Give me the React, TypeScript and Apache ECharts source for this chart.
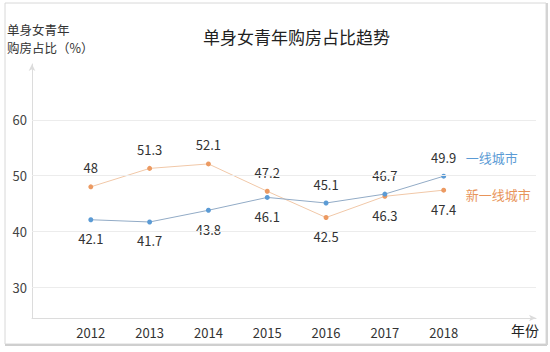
import React, { useEffect, useRef } from "react";
import * as echarts from "echarts";

const years = [2012, 2013, 2014, 2015, 2016, 2017, 2018];
const firstTier = [42.1, 41.7, 43.8, 46.1, 45.1, 46.7, 49.9];
const newFirstTier = [48, 51.3, 52.1, 47.2, 42.5, 46.3, 47.4];
const firstTierLabelPos = ["bottom", "bottom", "bottom", "bottom", "top", "top", "top"];
const newFirstTierLabelPos = ["top", "top", "top", "top", "bottom", "bottom", "bottom"];
const yTicks = [30, 40, 50, 60];
const seriesNames = ["一线城市", "新一线城市"];

const FONT = "Noto Sans CJK SC";

export default function App() {
  const ref = useRef<HTMLDivElement>(null);
  useEffect(() => {
    if (!ref.current) return;
    const chart = echarts.init(ref.current, null, { renderer: "svg" });
    const mk = (vals: number[], pos: string[]) =>
      vals.map((v, i) => ({
        value: [years[i], v],
        label: { position: pos[i] },
      }));
    chart.setOption({
      animation: false,
      backgroundColor: "#ffffff",
      textStyle: { fontFamily: FONT },
      title: [
        {
          text: "单身女青年购房占比趋势",
          left: 198,
          top: 23,
          textStyle: { fontSize: 17, fontWeight: "normal", color: "#222", fontFamily: FONT },
        },
      ],
      graphic: [
        {
          type: "rect",
          shape: { x: 5, y: 3, width: 541, height: 341 },
          style: { fill: "none", stroke: "#d8d8d8", lineWidth: 1 },
          z: -1,
          silent: true,
        },
        {
          type: "line",
          shape: { x1: 5, y1: 345, x2: 547, y2: 345 },
          style: { stroke: "#cfcfcf", lineWidth: 2 },
          silent: true,
        },
        {
          type: "line",
          shape: { x1: 547, y1: 3, x2: 547, y2: 345 },
          style: { stroke: "#d4d4d4", lineWidth: 2 },
          silent: true,
        },
        {
          type: "text",
          left: 7,
          top: 23,
          style: { text: "单身女青年", fontSize: 12.5, fill: "#333", fontFamily: FONT },
        },
        {
          type: "text",
          left: 7,
          top: 41,
          style: { text: "购房占比（%）", fontSize: 12.5, fill: "#333", fontFamily: FONT },
        },
        {
          type: "text",
          left: 511,
          top: 323,
          style: { text: "年份", fontSize: 14, fill: "#222", fontFamily: FONT },
        },
      ],
      grid: { left: 32, right: 14, top: 64, bottom: 34, containLabel: false },
      xAxis: {
        type: "value",
        min: 2011,
        max: 2019.57,
        interval: 1,
        axisLine: {
          show: true,
          symbol: ["none", "arrow"],
          symbolSize: [5, 7],
          lineStyle: { color: "#dcdcdc", width: 1 },
        },
        axisTick: { show: false },
        splitLine: { show: false },
        axisLabel: {
          margin: 8,
          fontSize: 13,
          color: "#333",
          fontFamily: FONT,
          showMinLabel: false,
          showMaxLabel: false,
          formatter: (v: number) => (years.indexOf(v) >= 0 ? String(v) : ""),
        },
      },
      yAxis: {
        type: "value",
        min: 24.5,
        max: 70,
        interval: 0.5,
        axisLine: {
          show: true,
          symbol: ["none", "arrow"],
          symbolSize: [5, 7],
          lineStyle: { color: "#dcdcdc", width: 1 },
        },
        axisTick: { show: false },
        splitLine: { show: false },
        axisLabel: {
          margin: 5,
          fontSize: 13,
          color: "#444",
          fontFamily: FONT,
          formatter: (v: number) => (yTicks.indexOf(v) >= 0 ? String(v) : ""),
        },
      },
      series: [
        {
          name: seriesNames[0],
          type: "line",
          data: mk(firstTier, firstTierLabelPos),
          symbol: "circle",
          symbolSize: 5,
          itemStyle: { color: "#5b9bd5" },
          lineStyle: { color: "#92abc6", width: 1 },
          label: {
            show: true,
            distance: 10,
            fontSize: 13,
            color: "#333",
            fontFamily: FONT,
            formatter: (p: any) => String(p.value[1]),
          },
          endLabel: {
            show: true,
            formatter: seriesNames[0],
            color: "#5b9bd5",
            fontSize: 13,
            fontFamily: FONT,
            offset: [14, -19],
          },
          markLine: {
            silent: true,
            symbol: "none",
            label: { show: false },
            lineStyle: { color: "#ececec", type: "solid", width: 1 },
            data: yTicks.map((v) => ({ yAxis: v })),
          },
          z: 3,
        },
        {
          name: seriesNames[1],
          type: "line",
          data: mk(newFirstTier, newFirstTierLabelPos),
          symbol: "circle",
          symbolSize: 5,
          itemStyle: { color: "#ec9a62" },
          lineStyle: { color: "#f1c8a8", width: 1 },
          label: {
            show: true,
            distance: 10,
            fontSize: 13,
            color: "#333",
            fontFamily: FONT,
            formatter: (p: any) => String(p.value[1]),
          },
          endLabel: {
            show: true,
            formatter: seriesNames[1],
            color: "#e8945a",
            fontSize: 13,
            fontFamily: FONT,
            offset: [14, 4],
          },
          z: 2,
        },
      ],
    });
    return () => chart.dispose();
  }, []);
  return (
    <div
      ref={ref}
      style={{ position: "fixed", left: 0, top: 0, width: 550, height: 352 }}
    />
  );
}
